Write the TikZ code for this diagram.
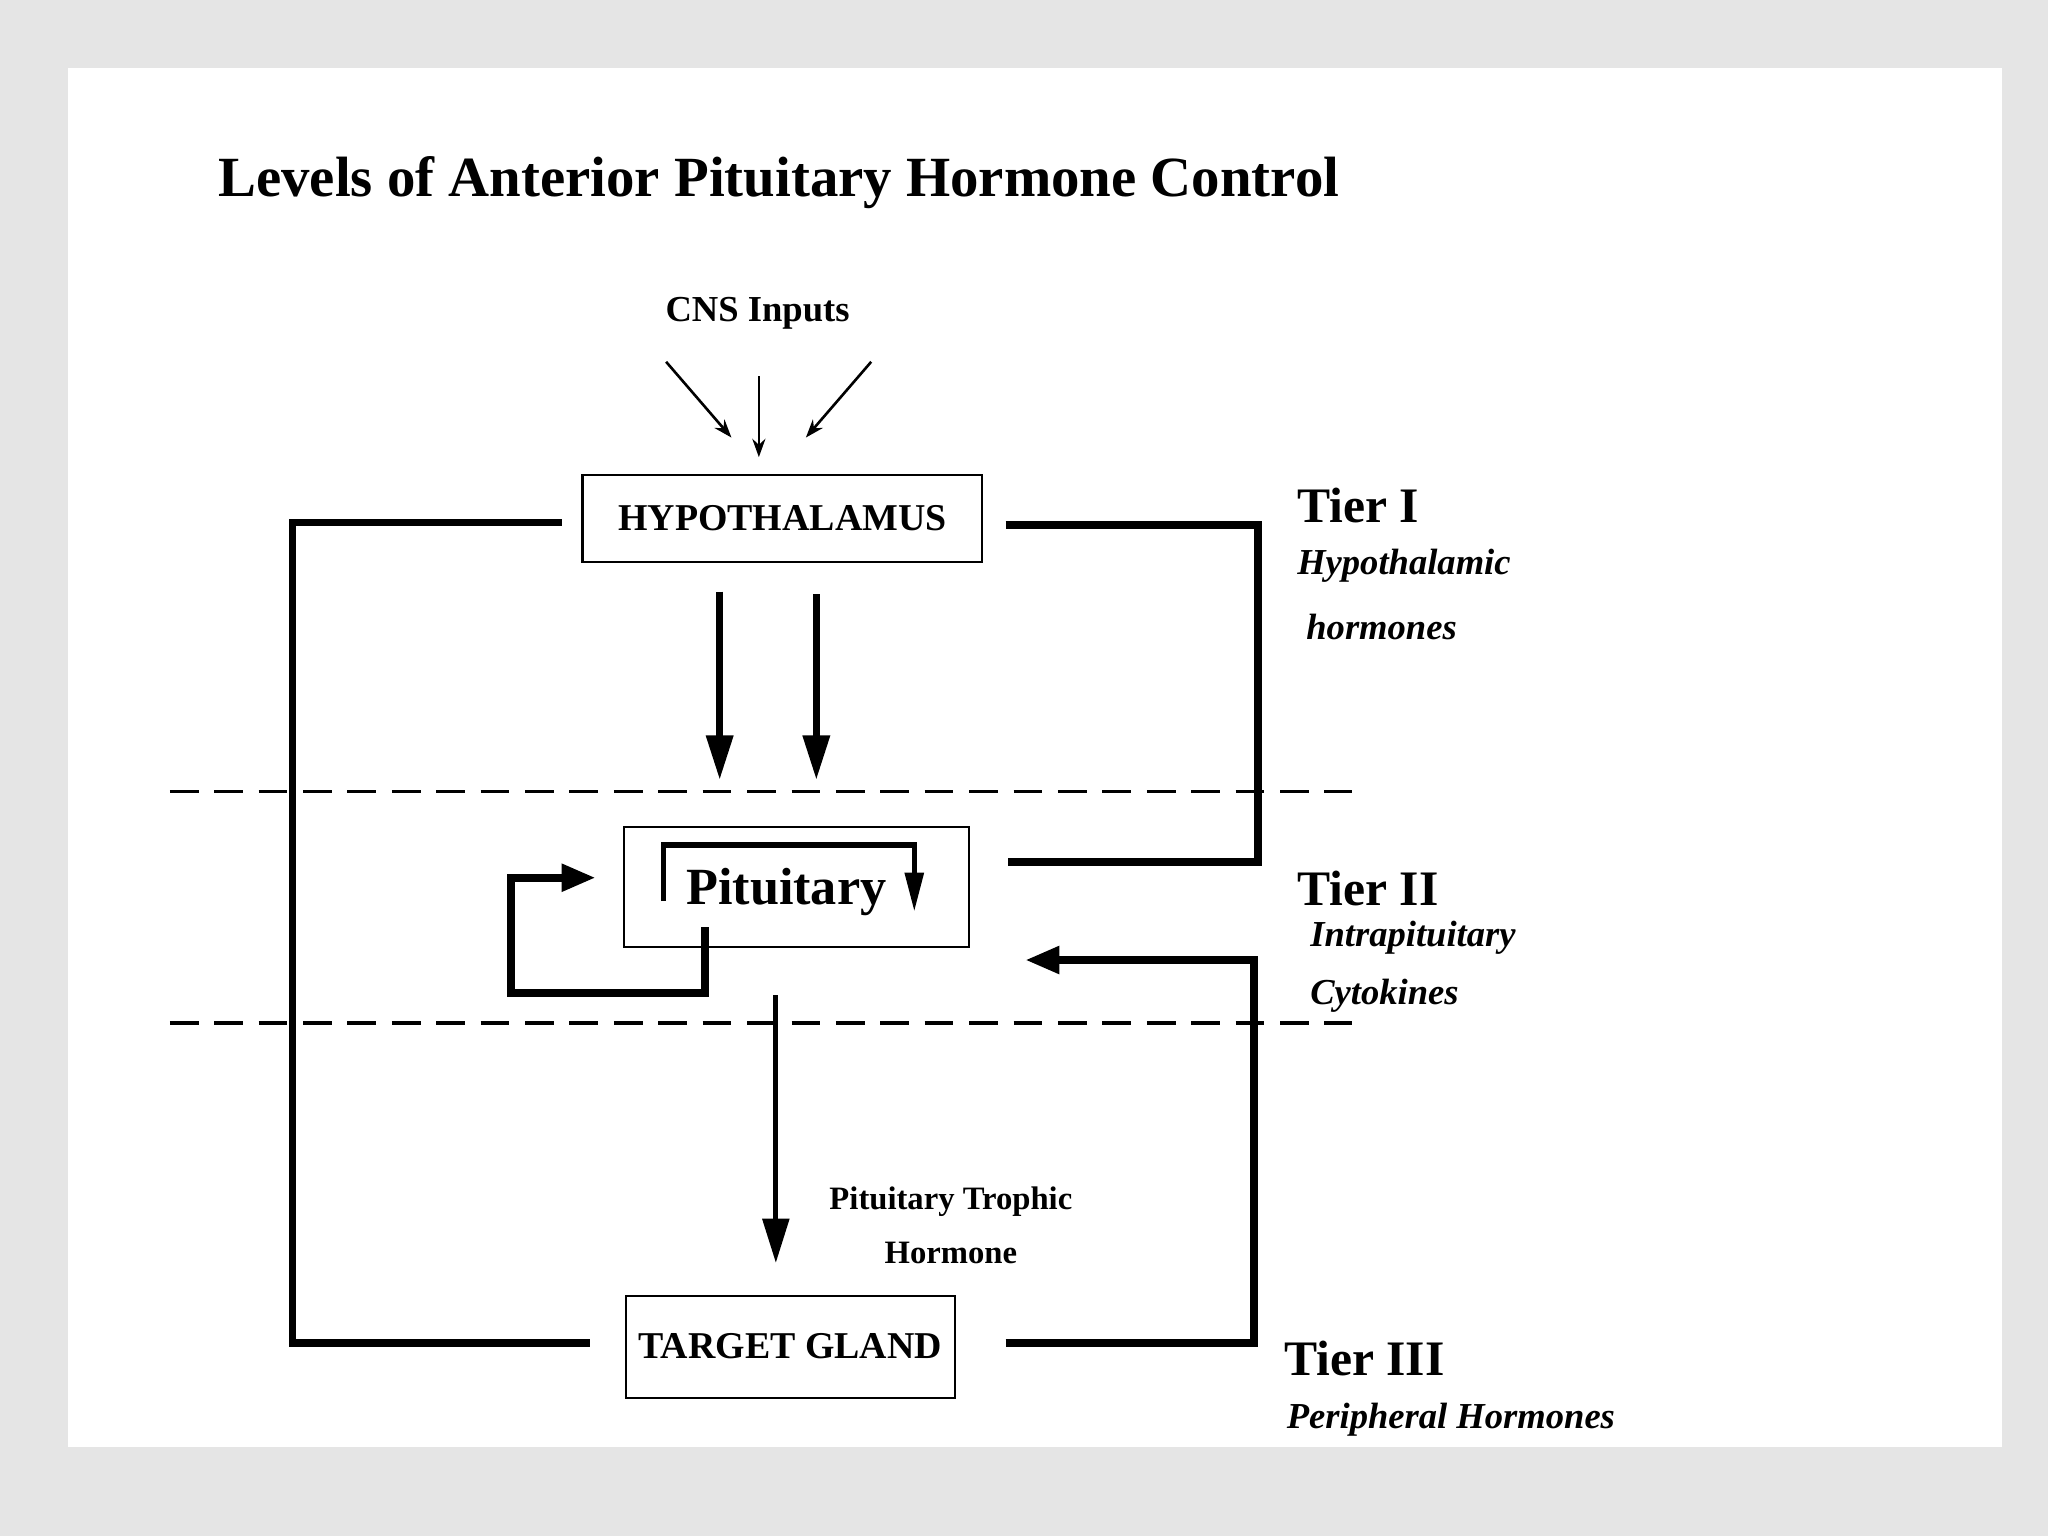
\documentclass[tikz,border=0pt]{standalone}
\usepackage{fontspec}
\setmainfont{Liberation Serif}
\usetikzlibrary{arrows.meta}
\begin{document}
\begin{tikzpicture}[x=1pt,y=-1pt,
  thick line/.style={line width=6pt},
  box/.style={draw,line width=1.6pt,inner sep=0pt},
  lbl/.style={font=\bfseries\fontsize{38}{40}\selectfont,anchor=west,inner sep=0pt},
  ital/.style={font=\bfseries\itshape\fontsize{28}{30}\selectfont,anchor=west,inner sep=0pt},
  tri/.style={-{Triangle[length=26pt,width=20pt]}}]
\useasboundingbox (0,0) rectangle (1568,1176);
\fill[gray!20] (0,0) rectangle (1568,1176);
\fill[white] (52,52) rectangle (1533,1108);
\node[font=\bfseries\fontsize{43.5}{48}\selectfont,anchor=west,inner sep=0pt] (title) at (167,140) {Levels of Anterior Pituitary Hormone Control};
\node[font=\bfseries\fontsize{28}{30}\selectfont,inner sep=0pt] (cns) at (580,240) {CNS Inputs};
\coordinate (c1) at (510,277); \coordinate (c1e) at (560,335);
\coordinate (c2) at (581,288); \coordinate (c2e) at (581,350);
\coordinate (c3) at (667,277); \coordinate (c3e) at (617,335);
\foreach \a/\b in {c1/c1e,c2/c2e,c3/c3e} \draw[line width=2pt,-{Stealth[length=14pt,width=10pt]}] (\a)--(\b);
\node[box,minimum width=306pt,minimum height=66pt,font=\bfseries\fontsize{29}{32}\selectfont] (hyp) at (599,397) {HYPOTHALAMUS};
\node[box,minimum width=264pt,minimum height=92pt] (pit) at (610,679) {};
\node[font=\bfseries\fontsize{40}{44}\selectfont,inner sep=0pt] (pittxt) at (602,683) {Pituitary};
\node[box,minimum width=252pt,minimum height=78pt,font=\bfseries\fontsize{29}{32}\selectfont] (tg) at (605,1031) {TARGET GLAND};
\coordinate (l1) at (430,400); \coordinate (l2) at (224,400); \coordinate (l3) at (224,1028); \coordinate (l4) at (452,1028);
\draw[thick line] (l1)--(l2)--(l3)--(l4);
\coordinate (r1) at (770,402); \coordinate (r2) at (963,402); \coordinate (r3) at (963,660); \coordinate (r4) at (772,660);
\draw[thick line] (r1)--(r2)--(r3)--(r4);
\coordinate (b1) at (770,1028); \coordinate (b2) at (960,1028); \coordinate (b3) at (960,735); \coordinate (b4) at (785,735);
\draw[thick line,tri] (b1)--(b2)--(b3)--(b4);
\coordinate (h1) at (551,453); \coordinate (h1e) at (551,597);
\coordinate (h2) at (625,455); \coordinate (h2e) at (625,597);
\draw[line width=5pt,-{Triangle[length=34pt,width=20pt]}] (h1)--(h1e);
\draw[line width=5pt,-{Triangle[length=34pt,width=20pt]}] (h2)--(h2e);
\coordinate (d1) at (130,606); \coordinate (d1e) at (1035,606);
\coordinate (d2) at (130,783); \coordinate (d2e) at (1035,783);
\draw[line width=3pt,dash pattern=on 22pt off 12pt] (d1)--(d1e);
\draw[line width=3pt,dash pattern=on 22pt off 12pt] (d2)--(d2e);
\coordinate (i1) at (508,690); \coordinate (i2) at (508,647); \coordinate (i3) at (700,647); \coordinate (i4) at (700,698);
\draw[line width=4pt,-{Triangle[length=30pt,width=14pt]}] (i1)--(i2)--(i3)--(i4);
\coordinate (a1) at (540,710); \coordinate (a2) at (540,760); \coordinate (a3) at (391,760); \coordinate (a4) at (391,672); \coordinate (a5) at (456,672);
\draw[line width=6pt,tri] (a1)--(a2)--(a3)--(a4)--(a5);
\coordinate (t1) at (594,762); \coordinate (t2) at (594,967);
\draw[line width=4pt,-{Triangle[length=34pt,width=20pt]}] (t1)--(t2);
\node[font=\bfseries\fontsize{25}{41}\selectfont,align=center,inner sep=0pt] (troph) at (728,938) {Pituitary Trophic\\Hormone};
\node[lbl] (t1l) at (993,387) {Tier I};
\node[ital] (t1a) at (993,433) {Hypothalamic};
\node[ital] (t1b) at (1000,480) {hormones};
\node[lbl] (t2l) at (993,680) {Tier II};
\node[ital] (t2a) at (1003,718) {Intrapituitary};
\node[ital] (t2b) at (1003,762) {Cytokines};
\node[lbl] (t3l) at (983,1040) {Tier III};
\node[ital] (t3a) at (985,1087) {Peripheral Hormones};
\end{tikzpicture}
\end{document}
